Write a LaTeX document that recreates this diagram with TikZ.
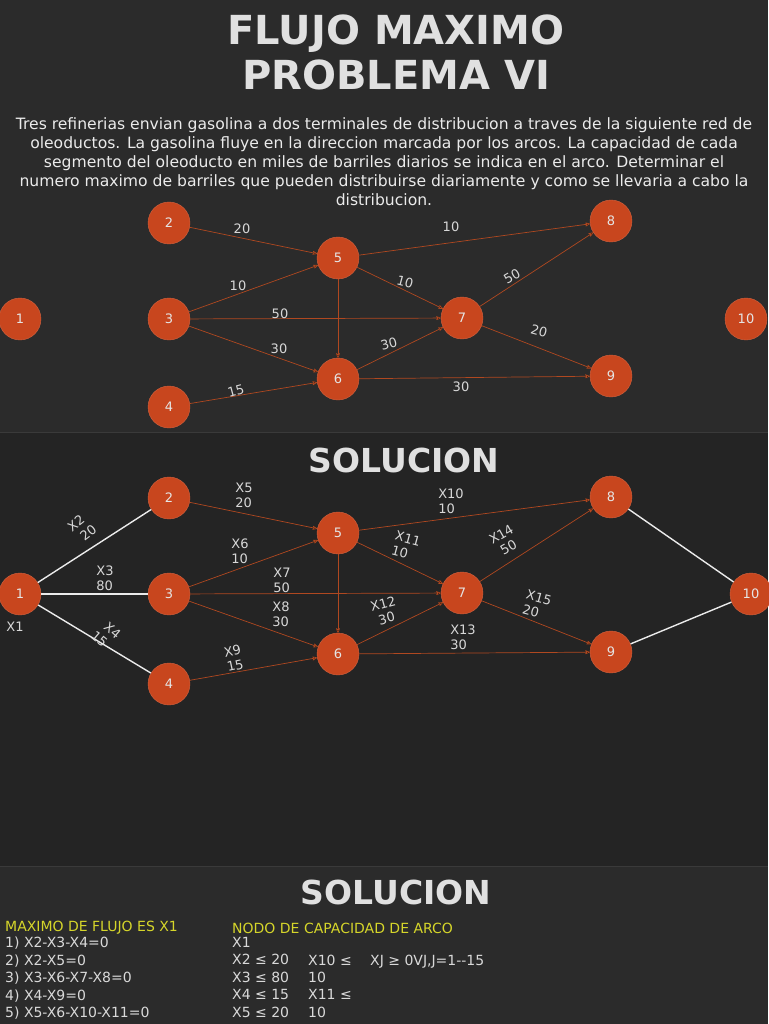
\documentclass[tikz,border=0pt]{standalone}
\usepackage{fontspec}
\setmainfont{DejaVu Sans}
\usetikzlibrary{arrows}
\definecolor{bgpanel}{HTML}{2B2B2B}
\definecolor{bgline}{HTML}{3A3A3A}
\definecolor{nodeorange}{HTML}{C8461E}
\definecolor{edgeorange}{HTML}{B04820}
\definecolor{labelgray}{HTML}{D8D8D8}
\definecolor{headyellow}{HTML}{D6D62A}
\tikzset{
  main node/.style={circle,fill=nodeorange,draw=nodeorange!85!white,minimum size=42pt,
    inner sep=0pt,text=white!90!black,font=\fontsize{13}{13}\selectfont},
  flow/.style={->,>=stealth',draw=edgeorange,line width=0.7pt},
  source/.style={draw=white!92!black,line width=1.4pt},
  arc label/.style={text=labelgray,font=\fontsize{13}{15}\selectfont,align=left,inner sep=0pt},
  heading/.style={text=white!88!black,font=\bfseries\fontsize{33}{36}\selectfont},
  eqtext/.style={anchor=west,inner sep=0pt,text=white!85!black,font=\fontsize{14}{17.4}\selectfont,align=left}
}
\begin{document}
\begin{tikzpicture}[x=1pt,y=-1pt]
  \useasboundingbox (0,0) rectangle (768,1024);
  % panels
  \fill[bgpanel] (0,0) rectangle (768,432);
  \fill[bgpanel!85!black] (0,432) rectangle (768,866);
  \fill[bgpanel] (0,866) rectangle (768,1024);
  \draw[bgline,line width=1pt] (0,432) -- (768,432) (0,866) -- (768,866);

  % title
  \node[text=white!88!black,font=\bfseries\fontsize{40}{45}\selectfont,align=center] (title) at (396,52)
    {FLUJO MAXIMO\\PROBLEMA VI};
  \node[text=white!92!black,font=\fontsize{15.6}{19}\selectfont,align=center] (desc) at (384,162)
    {Tres refinerias envian gasolina a dos terminales de distribucion a traves de la siguiente red de\\
     oleoductos. La gasolina fluye en la direccion marcada por los arcos. La capacidad de cada\\
     segmento del oleoducto en miles de barriles diarios se indica en el arco. Determinar el\\
     numero maximo de barriles que pueden distribuirse diariamente y como se llevaria a cabo la\\
     distribucion.};

  % first network
  \node[main node] (a1) at (20,319) {1};
  \node[main node] (a2) at (169,223) {2};
  \node[main node] (a3) at (169,319) {3};
  \node[main node] (a4) at (169,407) {4};
  \node[main node] (a5) at (338,258) {5};
  \node[main node] (a6) at (338,379) {6};
  \node[main node] (a7) at (462,318) {7};
  \node[main node] (a8) at (611,221) {8};
  \node[main node] (a9) at (611,376) {9};
  \node[main node] (a10) at (746,319) {10};

  \path[flow]
    (a2) edge (a5)
    (a3) edge (a5) edge (a7) edge (a6)
    (a4) edge (a6)
    (a5) edge (a8) edge (a7) edge (a6)
    (a6) edge (a7) edge (a9)
    (a7) edge (a8) edge (a9);

  \node[arc label] at (242,229) {20};
  \node[arc label] at (451,227) {10};
  \node[arc label] at (238,286) {10};
  \node[arc label,rotate=-15] at (405,282) {10};
  \node[arc label,rotate=30] at (512,276) {50};
  \node[arc label] at (280,314) {50};
  \node[arc label] at (279,349) {30};
  \node[arc label,rotate=15] at (389,344) {30};
  \node[arc label,rotate=-15] at (539,331) {20};
  \node[arc label,rotate=15] at (236,391) {15};
  \node[arc label] at (461,387) {30};

  % second network
  \node[heading] (sol1) at (404,460) {SOLUCION};
  \node[main node] (b1) at (20,594) {1};
  \node[main node] (b2) at (169,498) {2};
  \node[main node] (b3) at (169,594) {3};
  \node[main node] (b4) at (169,684) {4};
  \node[main node] (b5) at (338,533) {5};
  \node[main node] (b6) at (338,654) {6};
  \node[main node] (b7) at (462,593) {7};
  \node[main node] (b8) at (611,497) {8};
  \node[main node] (b9) at (611,652) {9};
  \node[main node] (b10) at (751,594) {10};

  \draw[source] (b1) -- (b2);
  \draw[source] (b1) -- (b3);
  \draw[source] (b1) -- (b4);
  \draw[source] (b8) -- (b10);
  \draw[source] (b9) -- (b10);
  \path[flow]
    (b2) edge (b5)
    (b3) edge (b5) edge (b7) edge (b6)
    (b4) edge (b6)
    (b5) edge (b8) edge (b7) edge (b6)
    (b6) edge (b7) edge (b9)
    (b7) edge (b8) edge (b9);

  \node[arc label,rotate=38] at (82,528) {X2\\\ 20};
  \node[arc label] at (105,578) {X3\\80};
  \node[arc label,rotate=-40] at (106,635) {\ X4\\15};
  \node[arc label] at (15,627) {X1};
  \node[arc label] at (244,495) {X5\\20};
  \node[arc label] at (240,551) {X6\\10};
  \node[arc label] at (282,580) {X7\\50};
  \node[arc label] at (281,614) {X8\\30};
  \node[arc label,rotate=12] at (234,658) {X9\\15};
  \node[arc label] at (451,501) {X10\\10};
  \node[arc label,rotate=-15] at (406,546) {X11\\10};
  \node[arc label,rotate=15] at (385,611) {X12\\\ 30};
  \node[arc label] at (463,637) {X13\\30};
  \node[arc label,rotate=30] at (505,541) {X14\\\ 50};
  \node[arc label,rotate=-15] at (537,605) {X15\\20};

  % model
  \node[heading] (sol2) at (396,892) {SOLUCION};
  \node[eqtext,text=headyellow] (maxf) at (5,928) {MAXIMO DE FLUJO ES X1};
  \node[eqtext,anchor=north west] (eqs) at (5,937)
    {1) X2-X3-X4=0\\2) X2-X5=0\\3) X3-X6-X7-X8=0\\4) X4-X9=0\\5) X5-X6-X10-X11=0};
  \node[eqtext,text=headyellow] (nodo) at (232,928) {NODO DE CAPACIDAD DE ARCO};
  \node[eqtext,anchor=north west] (capa) at (232,937)
    {X1\\X2 ≤ 20\\X3 ≤ 80\\X4 ≤ 15\\X5 ≤ 20};
  \node[eqtext,anchor=north west] (capb) at (308,954.4)
    {X10 ≤\\10\\X11 ≤\\10};
  \node[eqtext,anchor=north west] (nonneg) at (370,954.4) {XJ ≥ 0VJ,J=1-{}-15};
\end{tikzpicture}
\end{document}
